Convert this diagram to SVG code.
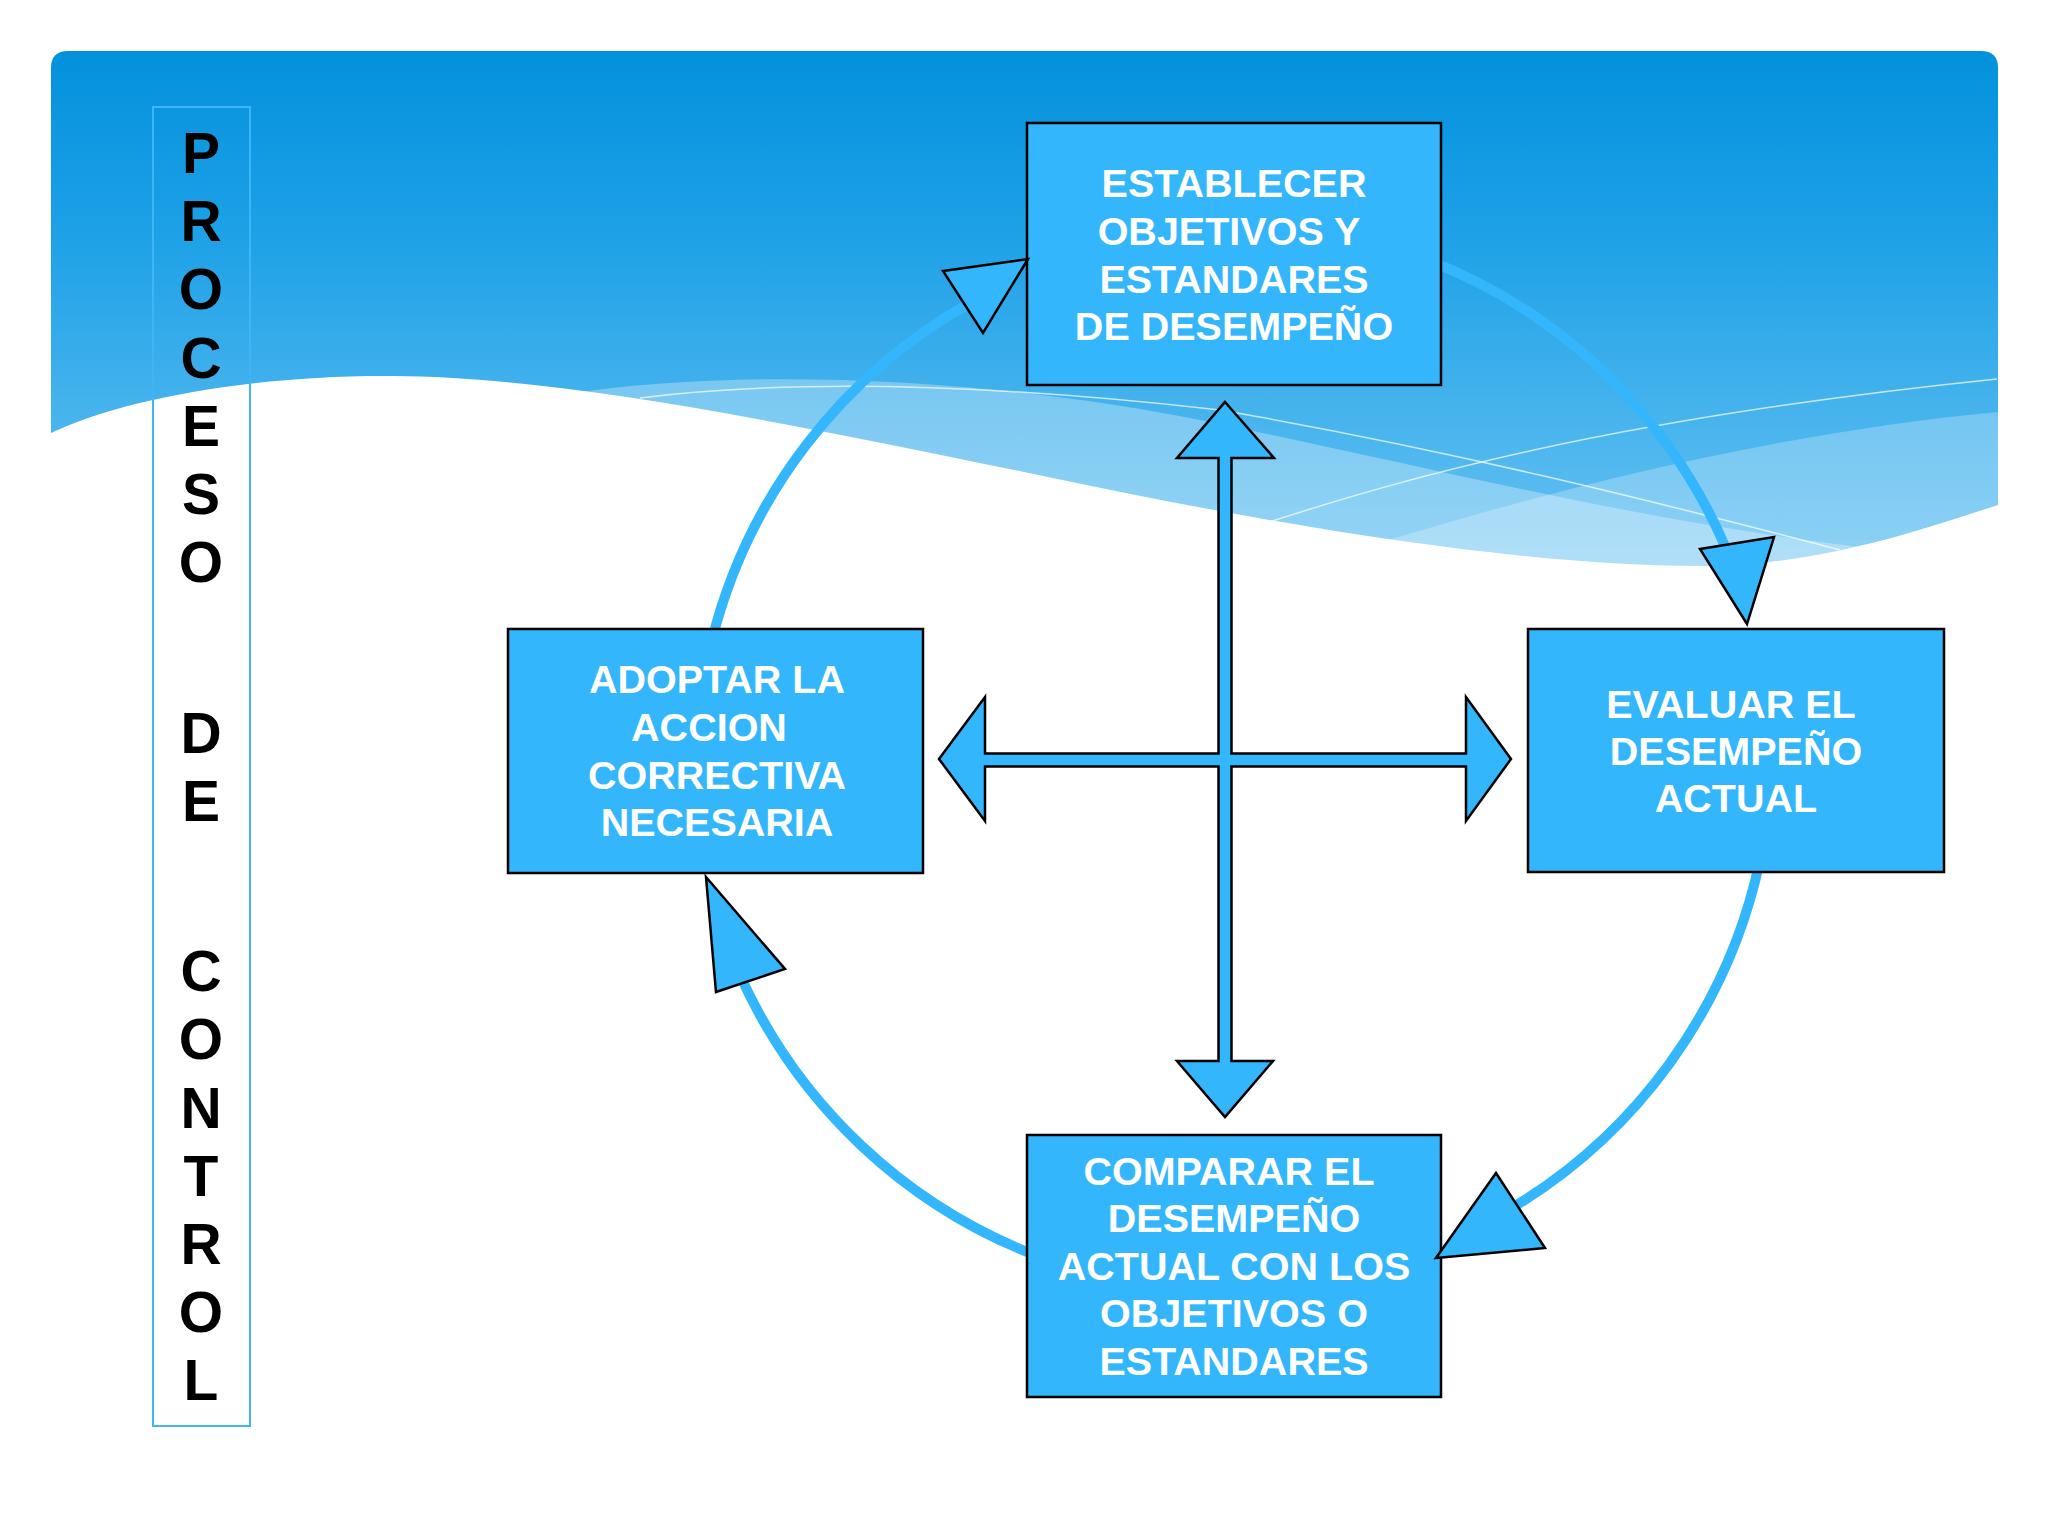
<svg xmlns="http://www.w3.org/2000/svg" width="2048" height="1536" viewBox="0 0 2048 1536">
  <defs>
    <linearGradient id="sky" x1="0" y1="51" x2="0" y2="580" gradientUnits="userSpaceOnUse">
      <stop offset="0" stop-color="#0391DC"/>
      <stop offset="0.35" stop-color="#1EA1E7"/>
      <stop offset="1" stop-color="#6CC4F3"/>
    </linearGradient>
    <style>
      .box { fill: #33B6FC; stroke: #000; stroke-width: 2.5; }
      .lbl { font-family: "Liberation Sans", Arial, sans-serif; font-weight: bold; font-size: 39.5px; fill: #fff; text-anchor: middle; }
      .vt { font-family: "Liberation Sans", Arial, sans-serif; font-weight: bold; font-size: 57px; fill: #000; text-anchor: middle; }
      .arc { fill: none; stroke: #33B6FC; stroke-width: 10; }
      .head { fill: #33B6FC; stroke: #000; stroke-width: 2.5; stroke-linejoin: miter; }
      .thin { fill: none; stroke: #fff; stroke-opacity: 0.7; stroke-width: 1.5; }
    </style>
  </defs>

  <!-- background -->
  <rect x="0" y="0" width="2048" height="1536" fill="#fff"/>
  <path d="M51 68 Q51 51 68 51 L1981 51 Q1998 51 1998 68 L1998 700 L51 700 Z" fill="url(#sky)"/>
  <path d="M560 395 C750 365 1000 380 1200 420 C1450 470 1700 540 1998 560 L1998 700 L560 700 Z" fill="#fff" fill-opacity="0.3"/>
  <path d="M1150 620 C1400 530 1700 440 1998 412 L1998 700 L1150 700 Z" fill="#fff" fill-opacity="0.25"/>
  <path class="thin" d="M640 398 C800 378 1000 385 1220 410 C1450 450 1650 500 1840 550"/>
  <path class="thin" d="M1266 523 C1400 480 1600 420 1997 379"/>
  <path d="M51 433 C120 400 250 375 392 376 C550 377 750 415 1024 472 C1250 520 1500 565 1697 566 C1820 566 1920 530 1998 505 L1998 1536 L51 1536 Z" fill="#fff"/>

  <!-- title column -->
  <g id="titulo">
    <rect x="153" y="107" width="97" height="1319" fill="none" stroke="#3DB6F6" stroke-width="2"/>
    <text class="vt" x="201" y="173">P</text>
    <text class="vt" x="201" y="241">R</text>
    <text class="vt" x="201" y="309">O</text>
    <text class="vt" x="201" y="378">C</text>
    <text class="vt" x="201" y="446">E</text>
    <text class="vt" x="201" y="514">S</text>
    <text class="vt" x="201" y="582">O</text>
    <text class="vt" x="201" y="753">D</text>
    <text class="vt" x="201" y="821">E</text>
    <text class="vt" x="201" y="991">C</text>
    <text class="vt" x="201" y="1059">O</text>
    <text class="vt" x="201" y="1128">N</text>
    <text class="vt" x="201" y="1196">T</text>
    <text class="vt" x="201" y="1264">R</text>
    <text class="vt" x="201" y="1332">O</text>
    <text class="vt" x="201" y="1400">L</text>
  </g>

  <!-- connectors -->
  <g id="connectors">
    <path class="arc" d="M712 640 A535 535 0 0 1 972 302"/>
    <path class="arc" d="M1430 261 A535 535 0 0 1 1740 585"/>
    <path class="arc" d="M1760 860 A535 535 0 0 1 1505 1212"/>
    <path class="arc" d="M1040 1257 A535 535 0 0 1 740 975"/>
    <path class="head" d="M1225 402 L1274 458 L1231.5 458 L1231.5 753.5 L1466 753.5 L1466 697 L1511 759 L1466 821 L1466 766.5 L1231.5 766.5 L1231.5 1061 L1273 1061 L1225 1117 L1177 1061 L1218.5 1061 L1218.5 766.5 L985 766.5 L985 821 L939 759 L985 697 L985 753.5 L1218.5 753.5 L1218.5 458 L1177 458 Z"/>
  </g>

  <!-- nodes -->
  <g id="establecer">
    <rect class="box" x="1027" y="123" width="414" height="262"/>
    <text class="lbl" x="1234" y="197">ESTABLECER</text>
    <text class="lbl" x="1229" y="245">OBJETIVOS Y</text>
    <text class="lbl" x="1234" y="293">ESTANDARES</text>
    <text class="lbl" x="1234" y="340">DE DESEMPEÑO</text>
  </g>
  <g id="evaluar">
    <rect class="box" x="1528" y="629" width="416" height="243"/>
    <text class="lbl" x="1731" y="718">EVALUAR EL</text>
    <text class="lbl" x="1736" y="765">DESEMPEÑO</text>
    <text class="lbl" x="1736" y="812">ACTUAL</text>
  </g>
  <g id="comparar">
    <rect class="box" x="1027" y="1135" width="414" height="262"/>
    <text class="lbl" x="1229" y="1185">COMPARAR EL</text>
    <text class="lbl" x="1234" y="1232">DESEMPEÑO</text>
    <text class="lbl" x="1234" y="1280">ACTUAL CON LOS</text>
    <text class="lbl" x="1234" y="1327">OBJETIVOS O</text>
    <text class="lbl" x="1234" y="1375">ESTANDARES</text>
  </g>
  <g id="adoptar">
    <rect class="box" x="508" y="629" width="415" height="244"/>
    <text class="lbl" x="717" y="693">ADOPTAR LA</text>
    <text class="lbl" x="709" y="741">ACCION</text>
    <text class="lbl" x="717" y="789">CORRECTIVA</text>
    <text class="lbl" x="717" y="836">NECESARIA</text>
  </g>

  <!-- arrowheads of the cycle -->
  <g id="heads">
    <polygon class="head" points="943,271 1028,259 983,333"/>
    <polygon class="head" points="1700,549 1774,537 1747,624"/>
    <polygon class="head" points="1436,1258 1496,1173 1545,1248"/>
    <polygon class="head" points="706,877 785,969 716,992"/>
  </g>
</svg>
